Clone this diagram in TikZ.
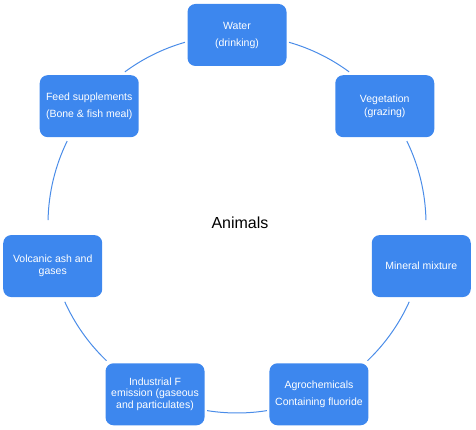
\documentclass[tikz,border=0pt]{standalone}
\usepackage{fontspec}
\setmainfont{Liberation Sans}
\usetikzlibrary{calc}
\definecolor{boxblue}{RGB}{61,135,238}
\definecolor{linkblue}{RGB}{74,140,232}
\tikzset{
  srcbox/.style={fill=boxblue, draw=none, rounded corners=8pt, minimum width=99pt, minimum height=62pt,
    inner sep=2pt, align=center, text=white, font=\fontsize{10.5}{12}\selectfont},
  link/.style={draw=linkblue, line width=1pt},
  hub/.style={font=\fontsize{16}{19}\selectfont, text=black}
}
\begin{document}
\begin{tikzpicture}[x=1pt,y=1pt]
\useasboundingbox (0,0) rectangle (476,430);
\coordinate (c) at (237,206);
\def\R{189}
% connectors (arcs of the ring between boxes)
\draw[link] ($(c)+(74:\R)$) arc[start angle=74, end angle=53.6, radius=\R];
\draw[link] ($(c)+(26:\R)$) arc[start angle=26, end angle=1.2, radius=\R];
\draw[link] ($(c)+(-24.3:\R)$) arc[start angle=-24.3, end angle=-46.3, radius=\R];
\draw[link] ($(c)+(-80.9:\R)$) arc[start angle=-80.9, end angle=-99.1, radius=\R];
\draw[link] ($(c)+(-133.7:\R)$) arc[start angle=-133.7, end angle=-155.7, radius=\R];
\draw[link] ($(c)+(178.8:\R)$) arc[start angle=178.8, end angle=154, radius=\R];
\draw[link] ($(c)+(126.4:\R)$) arc[start angle=126.4, end angle=106, radius=\R];
% boxes
\node[srcbox] (water) at ($(c)+(90:\R)$) {Water\\[5pt](drinking)};
\node[srcbox] (veg) at ($(c)+(38.57:\R)$) {Vegetation\\[1pt](grazing)};
\node[srcbox] (mineral) at ($(c)+(-12.86:\R)$) {Mineral mixture};
\node[srcbox] (agro) at ($(c)+(-64.29:\R)$) {Agrochemicals\\[4.3pt]Containing fluoride};
\node[srcbox] (industrial) at ($(c)+(-115.71:\R)$) {Industrial F\\[-0.3pt]emission (gaseous\\[-0.3pt]and particulates)};
\node[srcbox] (volcanic) at ($(c)+(-167.14:\R)$) {Volcanic ash and\\[0.3pt]gases};
\node[srcbox] (feed) at ($(c)+(141.43:\R)$) {Feed supplements\\[4.7pt](Bone \& fish meal)};
\node[hub] (animals) at (240,207.5) {Animals};
\end{tikzpicture}
\end{document}
